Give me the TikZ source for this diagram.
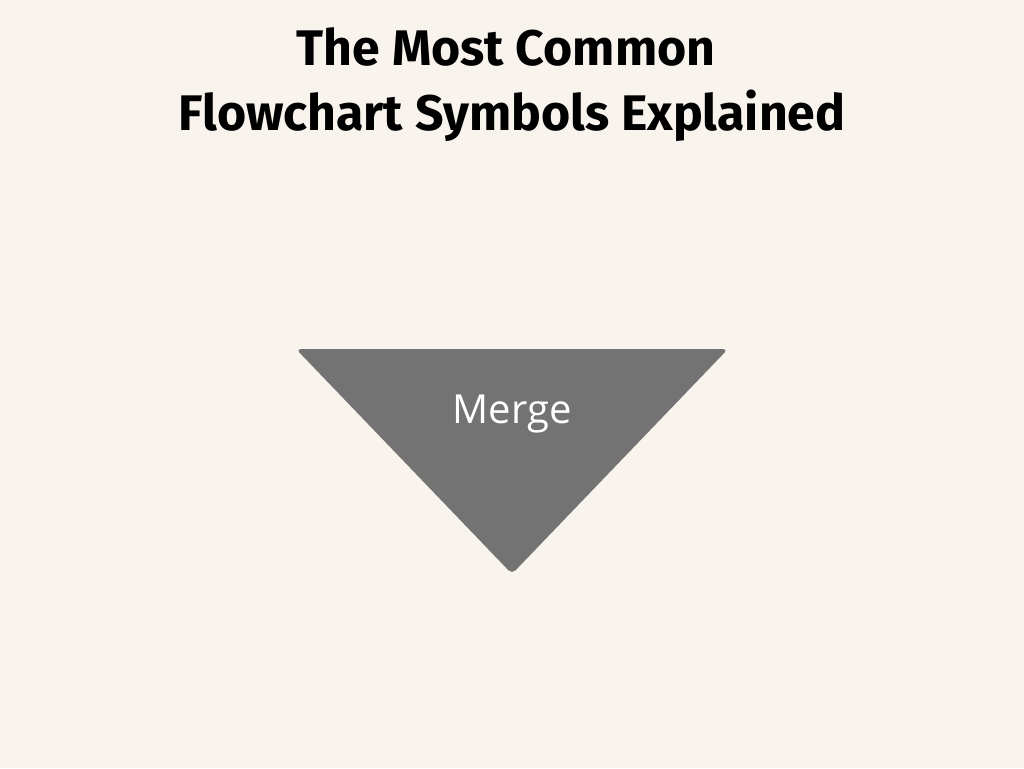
\documentclass[tikz,border=0pt]{standalone}
\usepackage{fontspec}
\setmainfont{Fira Sans}
\newfontfamily\labelfont{Open Sans}
\usetikzlibrary{positioning}
\definecolor{bgcream}{HTML}{F8F3EC}
\definecolor{mergegray}{HTML}{737373}
\tikzset{
    titletext/.style={black, anchor=base, font=\bfseries\fontsize{50}{58}\selectfont},
    mergetext/.style={white, anchor=base, font=\labelfont\fontsize{40}{48}\selectfont}
}
\begin{document}
\begin{tikzpicture}[x=1pt,y=-1pt]
            \fill[bgcream] (0,0) rectangle (1024,768);
            \node[titletext] (title1) at (506,65) {The Most Common};
            \node[titletext] (title2) at (512,130) {Flowchart Symbols Explained};
            \fill[mergegray, rounded corners=5pt] (296,349) -- (728,349) -- (512,574) -- cycle;
            \node[mergetext] (merge) at (512,423) {Merge};
        \end{tikzpicture}
\end{document}
